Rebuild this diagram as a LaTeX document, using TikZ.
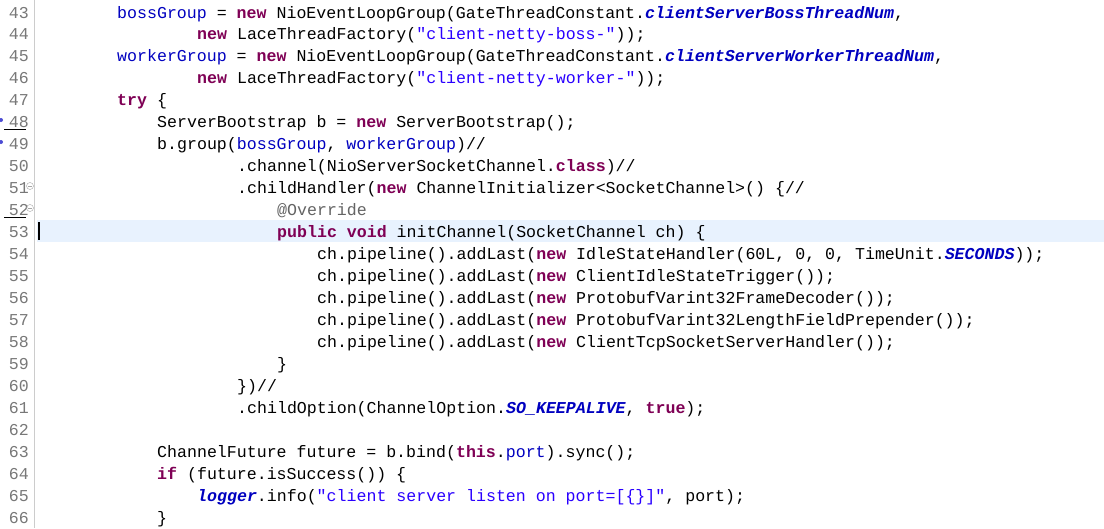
\documentclass[tikz,border=0pt]{standalone}
\usepackage{fontspec}
\setmonofont{Liberation Mono}
\definecolor{kwc}{HTML}{7F0055}
\definecolor{fdc}{HTML}{0000C0}
\definecolor{stc}{HTML}{2A00FF}
\definecolor{anc}{HTML}{646464}
\definecolor{lnc}{HTML}{787878}
\definecolor{hlc}{HTML}{E8F2FE}
\newcommand{\kw}[1]{\textcolor{kwc}{\bfseries #1}}
\newcommand{\fd}[1]{\textcolor{fdc}{#1}}
\newcommand{\sq}[1]{\textcolor{stc}{#1}}
\newcommand{\stf}[1]{\textcolor{fdc}{\bfseries\itshape #1}}
\begin{document}
\begin{tikzpicture}[x=1pt,y=-1pt,
  code/.style={anchor=base west,inner sep=0pt,font=\fontsize{16.6}{18}\ttfamily},
  lnum/.style={anchor=base east,inner sep=0pt,text=lnc,font=\fontsize{16.6}{18}\ttfamily}]
\useasboundingbox[fill=white] (0,0) rectangle (1104,528);
\fill[hlc] (37,220) rectangle (1104,242);
\draw[gray!40] (34,0) -- (34,528);
\draw[black,line width=1.5pt] (39,222) -- (39,240);
\foreach \n [count=\i from 0] in {43,...,66}{
  \node[lnum] (ln\n) at (29,{18+21.96*\i}) {\n};
}
\draw[black,line width=1pt] (4,129) -- (26,129);
\draw[black,line width=1pt] (4,217) -- (26,217);
\fill[fdc!70] (1,120) circle (2);
\fill[fdc!70] (1,142) circle (2);
\foreach \yy in {186,208}{\draw[gray!70] (30,\yy) circle (3.5); \draw[gray!70] (28,\yy) -- (32,\yy);}
\def\L#1#2#3{\node[code] (c#1) at ({37+10*#2},{18+21.96*(#1-43)}) {#3};}
\L{43}{8}{\fd{bossGroup} = \kw{new} NioEventLoopGroup(GateThreadConstant.\stf{clientServerBossThreadNum},}
\L{44}{16}{\kw{new} LaceThreadFactory(\sq{"client-netty-boss-"}));}
\L{45}{8}{\fd{workerGroup} = \kw{new} NioEventLoopGroup(GateThreadConstant.\stf{clientServerWorkerThreadNum},}
\L{46}{16}{\kw{new} LaceThreadFactory(\sq{"client-netty-worker-"}));}
\L{47}{8}{\kw{try} \{}
\L{48}{12}{ServerBootstrap b = \kw{new} ServerBootstrap();}
\L{49}{12}{b.group(\fd{bossGroup}, \fd{workerGroup})//}
\L{50}{20}{.channel(NioServerSocketChannel.\kw{class})//}
\L{51}{20}{.childHandler(\kw{new} ChannelInitializer<SocketChannel>() \{//}
\L{52}{24}{\textcolor{anc}{@Override}}
\L{53}{24}{\kw{public} \kw{void} initChannel(SocketChannel ch) \{}
\L{54}{28}{ch.pipeline().addLast(\kw{new} IdleStateHandler(60L, 0, 0, TimeUnit.\stf{SECONDS}));}
\L{55}{28}{ch.pipeline().addLast(\kw{new} ClientIdleStateTrigger());}
\L{56}{28}{ch.pipeline().addLast(\kw{new} ProtobufVarint32FrameDecoder());}
\L{57}{28}{ch.pipeline().addLast(\kw{new} ProtobufVarint32LengthFieldPrepender());}
\L{58}{28}{ch.pipeline().addLast(\kw{new} ClientTcpSocketServerHandler());}
\L{59}{24}{\}}
\L{60}{20}{\})//}
\L{61}{20}{.childOption(ChannelOption.\stf{SO\_KEEPALIVE}, \kw{true});}
\L{63}{12}{ChannelFuture future = b.bind(\kw{this}.\fd{port}).sync();}
\L{64}{12}{\kw{if} (future.isSuccess()) \{}
\L{65}{16}{\stf{logger}.info(\sq{"client server listen on port=[\{\}]"}, port);}
\L{66}{12}{\}}
\end{tikzpicture}
\end{document}
